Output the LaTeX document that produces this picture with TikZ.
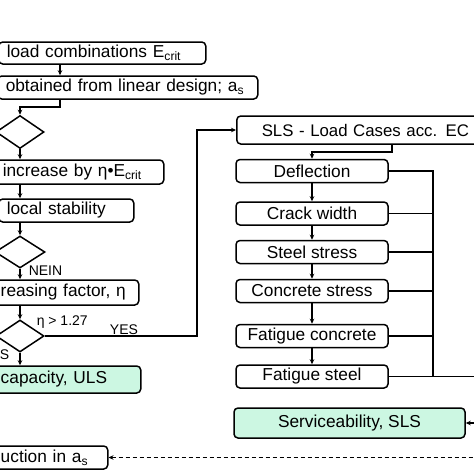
\documentclass[tikz,border=0pt]{standalone}
\usepackage{fontspec}
\setmainfont{Liberation Sans}
\usetikzlibrary{arrows.meta, shapes.geometric}
\definecolor{mint}{RGB}{204,247,226}

\begin{document}
\begin{tikzpicture}[
  x=1pt, y=-1pt, line width=1.5pt,
  >={Stealth[length=5pt,width=4.5pt]},
  lbox/.style={draw, rounded corners=4pt, anchor=west, align=left, inner xsep=8pt, inner ysep=0pt, font=\fontsize{17.3}{20}\selectfont},
  rbox/.style={draw, rounded corners=4pt, minimum width=152pt, minimum height=23pt, inner sep=0pt, font=\fontsize{17.3}{20}\selectfont},
  dec/.style={draw, diamond, minimum width=48pt, minimum height=33pt, inner sep=0pt},
  lbl/.style={inner sep=0pt, font=\fontsize{14}{16}\selectfont}
]
  \useasboundingbox (0,0) rectangle (474,474);
  \clip (0,0) rectangle (474,474);

  % ULS side
  \node[lbox, text width=191pt, minimum height=22pt] (lc)  at (-2,53)    {load combinations E\textsubscript{crit}};
  \node[lbox, text width=244pt, minimum height=23pt] (lin) at (-3,87.5)  {obtained from linear design; a\textsubscript{s}};
  \node[dec] (d1) at (20,132) {};
  \node[lbox, text width=153pt, minimum height=24pt] (inc) at (-6,172)   {increase by η•E\textsubscript{crit}};
  \node[lbox, text width=119pt, minimum height=23pt] (loc) at (-2,210.5) {local stability};
  \node[dec, minimum width=50pt, minimum height=32pt] (d2) at (20,252) {};
  \node[lbox, text width=130pt, minimum height=25pt] (fac) at (-8,292.5) {reasing factor, η};
  \node[dec, minimum height=32pt] (d3) at (20,336) {};
  \node[lbox, text width=132pt, minimum height=27pt, fill=mint] (uls) at (-8,379.5) {capacity, ULS};
  \node[lbox, text width=99pt, minimum height=23pt] (red) at (-8,457.5) {uction in a\textsubscript{s}};

  \node[lbl, anchor=west] (nein) at (28,271) {NEIN};
  \node[lbl, anchor=west] (eta)  at (36,322) {η > 1.27};
  \node[lbl] (yes) at (124,330) {YES};
  \node[lbl, anchor=east] (yes2) at (10,355) {S};

  % SLS side
  \node[lbox, inner xsep=25pt, text width=240pt, minimum height=28pt, font=\fontsize{16.8}{20}\selectfont] (sls) at (236,130) {SLS - Load Cases acc. EC};
  \node[rbox] (defl)  at (312,171)   {Deflection};
  \node[rbox] (crack) at (312,213.5) {Crack width};
  \node[rbox] (steel) at (312,252)   {Steel stress};
  \node[rbox] (conc)  at (312,291)   {Concrete stress};
  \node[rbox] (fatc)  at (312,336)   {Fatigue concrete};
  \node[rbox] (fats)  at (312,376.5) {Fatigue steel};
  \node[rbox, minimum width=231pt, minimum height=30pt, fill=mint] (sv) at (349.5,423) {Serviceability, SLS};

  \coordinate (c1) at (60,107);
  \coordinate (c2) at (197,130);
  \coordinate (c3) at (392,152);
  \coordinate (c4) at (433,376.5);
  \coordinate (eR) at (490,0);

  \draw[->] (lc.south -| c1) -- (lin.north -| c1);
  \draw[->] (lin.south -| c1) -- (c1) -| (d1.north);
  \draw[->] (d1.south) -- (d1.south |- inc.north);
  \draw[->] (inc.south -| d1) -- (loc.north -| d1);
  \draw[->] (loc.south -| d2) -- (d2.north);
  \draw[->] (d2.south) -- (d2.south |- fac.north);
  \draw[->] (fac.south -| d3) -- (d3.north);
  \draw[->] (d3.south) -- (d3.south |- uls.north);
  \draw[->] (d3.east) -| (c2) -- (sls.west);

  \draw[->] (sls.south -| c3) -- (c3) -| (defl.north);
  \foreach \a/\b in {defl/crack, crack/steel, steel/conc, conc/fatc, fatc/fats}
    \draw[->] (\a) -- (\b);
  \draw (defl.east) -| (c4);
  \foreach \n in {crack, steel, conc, fatc}
    \draw (\n.east) -- (\n.east -| c4);
  \draw (fats.east) -- (fats.east -| eR);
  \draw[<-] (sv.east) -- (sv.east -| eR);
  \draw[<-, dash pattern=on 4pt off 3pt] (red.east) -- (red.east -| eR);
\end{tikzpicture}
\end{document}
